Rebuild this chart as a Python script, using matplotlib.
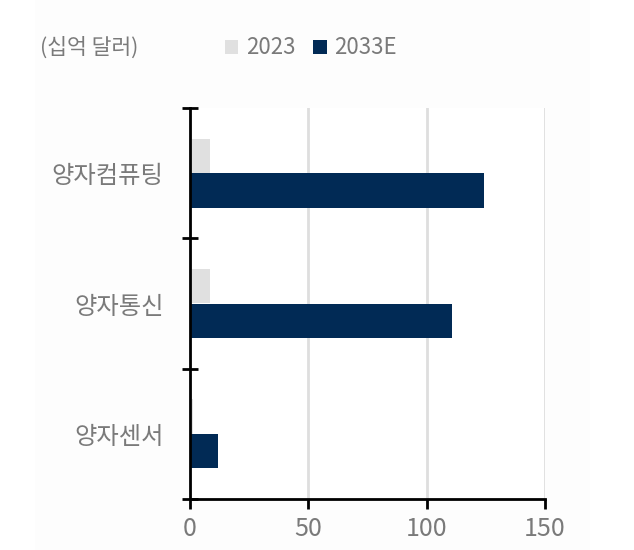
import matplotlib
matplotlib.use("Agg")
import matplotlib.pyplot as plt
import matplotlib.patches as mpatches
import numpy as np

plt.rcParams['font.family'] = ['Noto Sans CJK KR', 'DejaVu Sans']

categories = ['양자컴퓨팅', '양자통신', '양자센서']
series_names = ['2023', '2033E']
values_2023 = [8.6, 8.6, 1.3]
values_2033 = [124.4, 110.9, 11.7]
xticks = [0, 50, 100, 150]
unit_label = '(십억 달러)'

c_light = '#e0e0e0'
c_dark = '#012a55'
text_c = '#7a7a7a'

fig = plt.figure(figsize=(6.34, 5.5), dpi=100)
fig.patch.set_facecolor('white')
fig.patches.append(mpatches.Rectangle((35/634, 0), (590-35)/634, 1, transform=fig.transFigure,
                                      facecolor='#fdfdfd', edgecolor='none', zorder=-10))

ax = fig.add_axes([190/634, 1-499/550, (545-190)/634, (499-108)/550])
ax.set_facecolor('white')

y = np.arange(len(categories))
h = 0.265
b1 = ax.barh(y - h/2, values_2023, height=h, color=c_light, label=series_names[0], zorder=3)
b2 = ax.barh(y + h/2, values_2033, height=h, color=c_dark, label=series_names[1], zorder=3)

ax.set_ylim(len(categories) - 0.5, -0.5)
ax.set_xlim(0, 150)
ax.set_xticks(xticks)
ax.set_xticklabels([str(t) for t in xticks])
ax.set_yticks(y)
ax.set_yticklabels(categories)
ax.set_yticks(np.arange(-0.5, len(categories)), minor=True)

for s in ['top', 'right']:
    ax.spines[s].set_visible(False)
for s in ['left', 'bottom']:
    ax.spines[s].set_linewidth(2.0)
    ax.spines[s].set_color('black')
    ax.spines[s].set_zorder(5)

ax.xaxis.grid(True, color='#dedede', linewidth=2.0, zorder=0)
ax.yaxis.grid(False)
ax.tick_params(axis='x', direction='out', length=7, width=2, colors='black',
               labelcolor=text_c, labelsize=18, pad=5)
ax.tick_params(axis='y', which='major', length=0, labelcolor=text_c, labelsize=17.5, pad=19)
ax.tick_params(axis='y', which='minor', direction='inout', length=12, width=2, color='black')

for lbl in ax.get_xticklabels() + ax.get_yticklabels():
    lbl.set_fontweight('light')

fig.text(40/634, 1-48/550, unit_label, color=text_c, fontsize=15.5, va='center', ha='left',
         fontweight='light')

leg = fig.legend(handles=[b1, b2], loc='center left', bbox_to_anchor=(225/634, 1-48/550),
                 ncol=2, frameon=False, handlelength=0.6, handleheight=0.6,
                 handletextpad=0.35, columnspacing=0.8, fontsize=16, borderaxespad=0,
                 borderpad=0)
for t in leg.get_texts():
    t.set_color(text_c)
    t.set_fontweight('light')

fig.savefig('out.png', dpi=100)
